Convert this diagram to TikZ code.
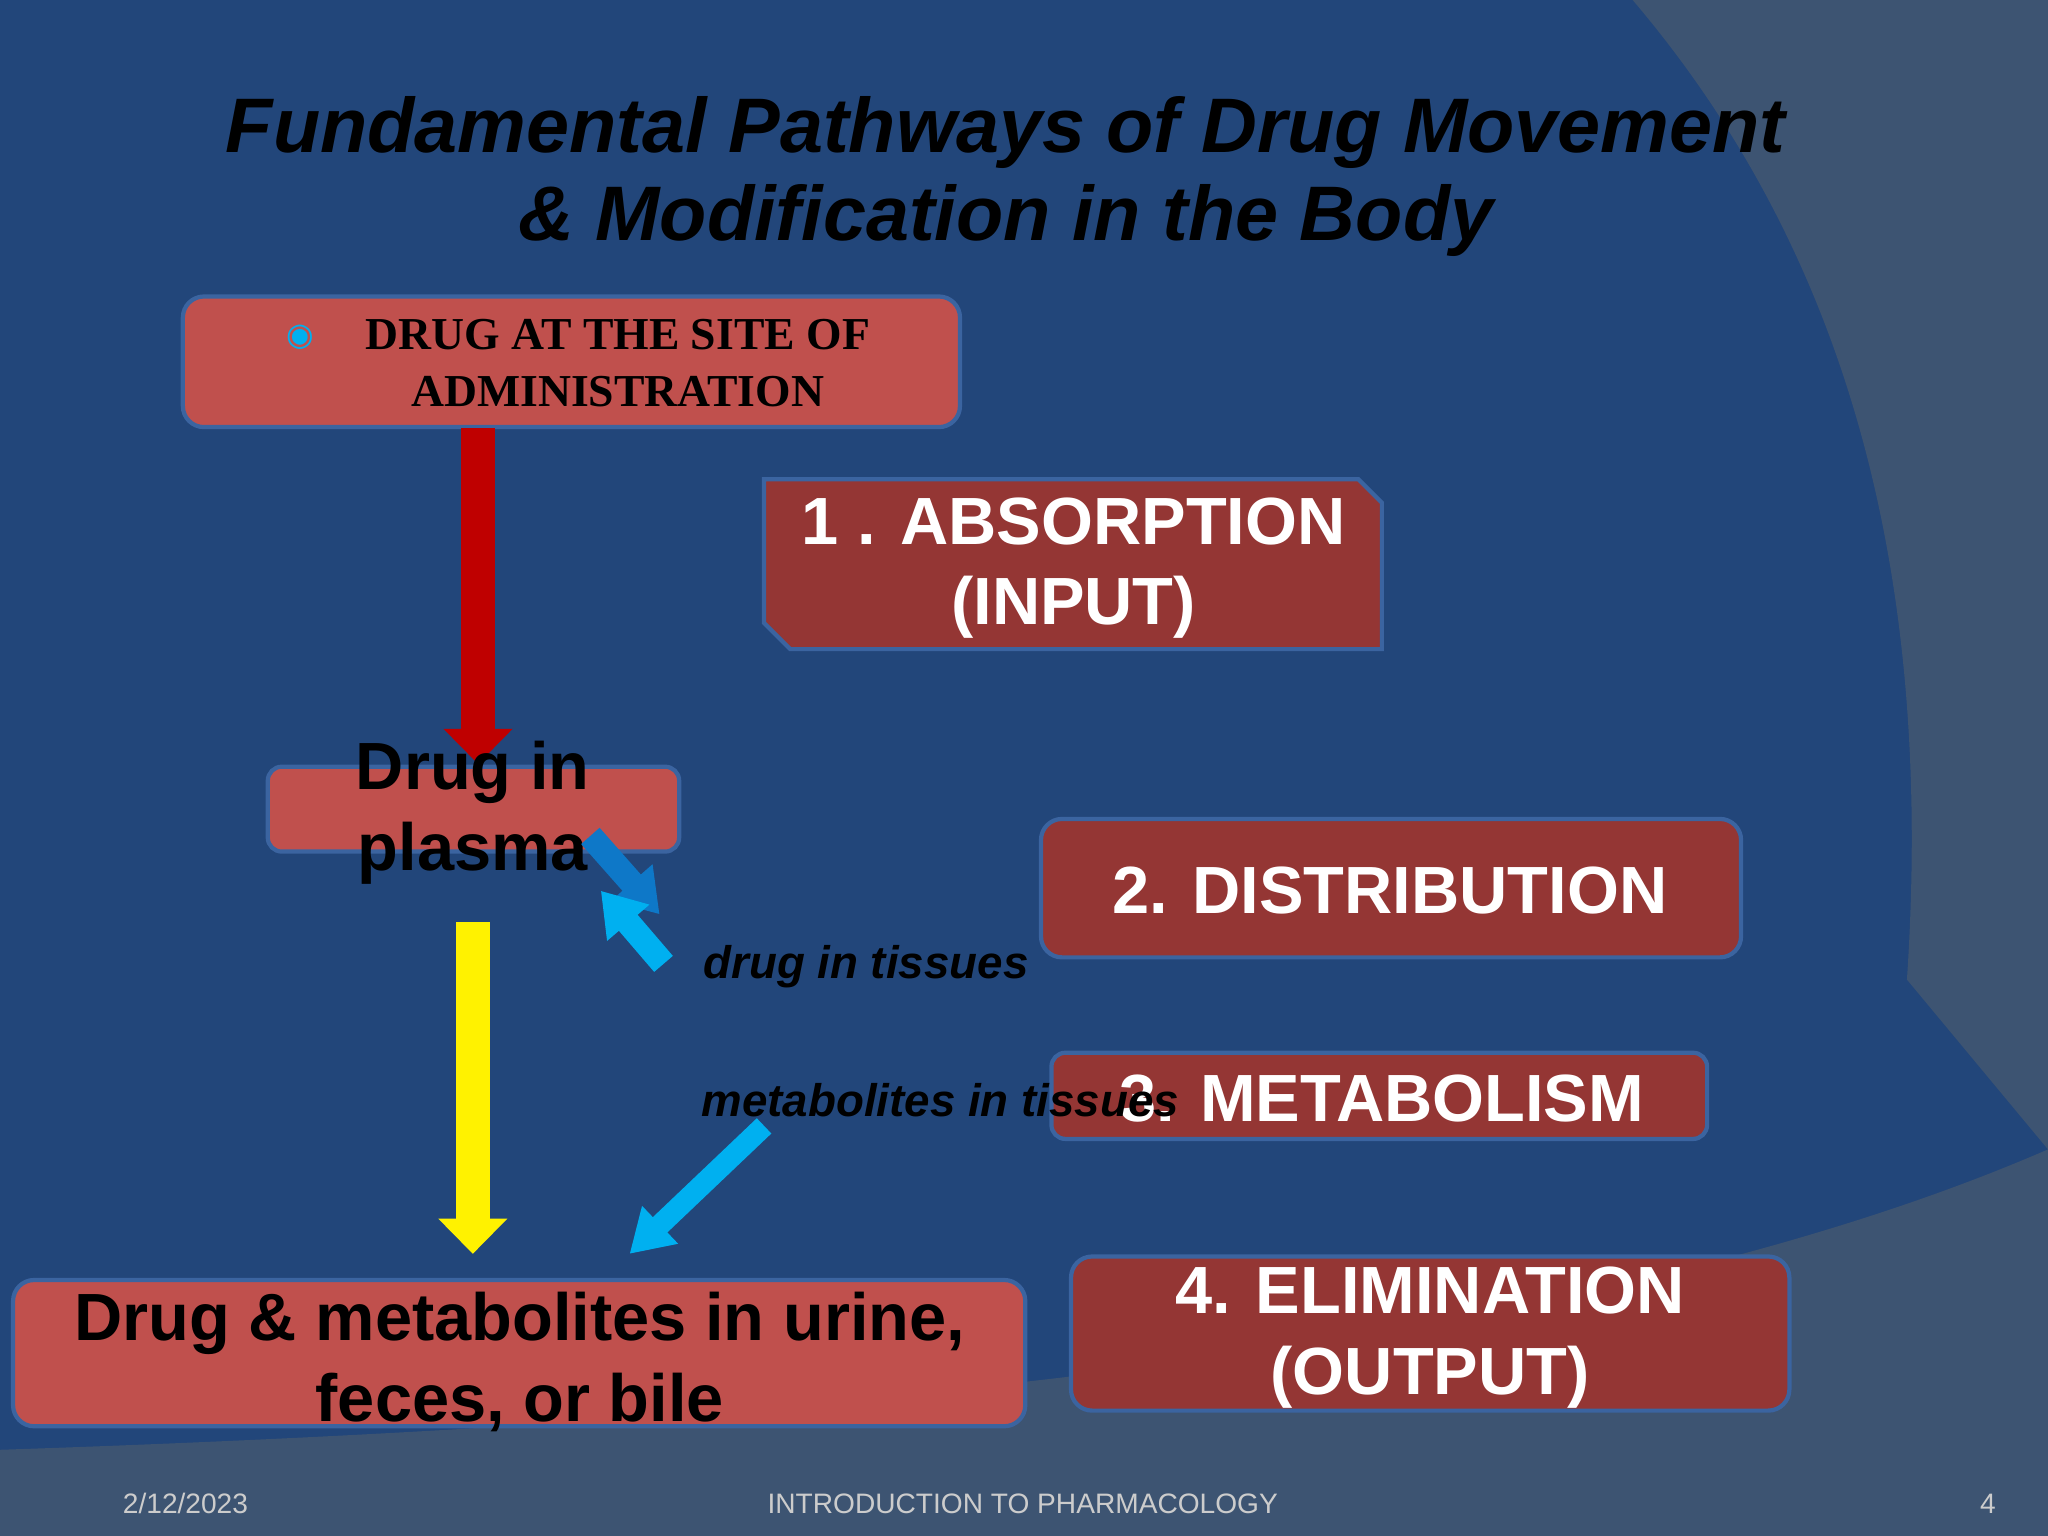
\documentclass[tikz,border=0pt]{standalone}
\usepackage{fontspec}
\setmainfont{Liberation Sans}
\newfontfamily\seriff{Liberation Serif}
\newfontfamily\dvs{DejaVu Sans}
\usetikzlibrary{arrows.meta,shapes.misc}
\definecolor{bg}{HTML}{22467A}
\definecolor{band}{HTML}{3D5472}
\definecolor{lred}{HTML}{C0504D}
\definecolor{dred}{HTML}{943634}
\definecolor{bord}{HTML}{3B64A0}
\definecolor{lblue}{HTML}{00B0F0}
\definecolor{mblue}{HTML}{0E78C8}
\begin{document}
\begin{tikzpicture}[x=0.013061cm,y=-0.013061cm,
  lbox/.style={fill=lred,draw=bord,line width=1.2pt},
  dbox/.style={fill=dred,draw=bord,line width=1.2pt},
  wt/.style={text=white,font=\fontsize{19}{23}\selectfont\bfseries,align=center},
  bt/.style={text=black,font=\fontsize{19}{23}\selectfont\bfseries,align=center},
  it/.style={text=black,font=\fontsize{13}{15}\selectfont\bfseries\itshape},
  fat/.style={line width=#1}]
\useasboundingbox (0,0) rectangle (1568,1176);
\fill[bg] (0,0) rectangle (1568,1176);
\fill[band] (1250,0) .. controls (1420,200) and (1480,450) .. (1460,750) -- (1568,880) -- (1568,0) -- cycle;
\fill[band] (0,1110) .. controls (600,1090) and (1200,1040) .. (1568,880) -- (1568,1176) -- (0,1176) -- cycle;
\node[font=\fontsize{22}{25}\selectfont\bfseries\itshape,align=center] (title) at (770,135)
  {Fundamental Pathways of Drug Movement\\ \& Modification in the Body};
% boxes
\draw[lbox,rounded corners=6pt] (140,227) rectangle (735,327);
\node[text=lblue,font=\dvs\fontsize{9}{10}\selectfont] (bul) at (230,258) {◉};
\node[font=\seriff\fontsize{13}{16}\selectfont\bfseries,align=center] (site) at (473,278) {DRUG AT THE SITE OF\\ADMINISTRATION};
\coordinate (sitebot) at (366,328);
\draw[dbox] (585,367) -- (1040,367) -- (1058,385) -- (1058,497) -- (605,497) -- (585,477) -- cycle;
\node[wt] (abs) at (822,435) {1 . ABSORPTION\\(INPUT)};
\draw[dbox,rounded corners=6pt] (797,627) rectangle (1333,733);
\node[wt] (dist) at (1064,682) {2. DISTRIBUTION};
\draw[dbox,rounded corners=4pt] (805,806) rectangle (1307,872);
\node[wt] (met) at (1058,841) {3. METABOLISM};
\draw[dbox,rounded corners=6pt] (820,962) rectangle (1370,1080);
\node[wt] (elim) at (1095,1024) {4. ELIMINATION\\(OUTPUT)};
% red arrow behind plasma
\coordinate (plasmatop) at (366,585);
\draw[fat=9.5pt,draw=red!75!black,-{Triangle[width=19pt,length=10pt]}] (sitebot) -- (plasmatop);
\draw[lbox,rounded corners=4pt] (205,587) rectangle (520,652);
\node[bt] (plasma) at (362,622) {Drug in\\plasma};
\draw[lbox,rounded corners=6pt] (10,980) rectangle (785,1092);
\node[bt] (urine) at (398,1043) {Drug \& metabolites in urine,\\feces, or bile};
\node[it] (tis) at (663,740) {drug in tissues};
\node[it] (mtis) at (720,842) {metabolites in tissues};
% yellow arrow
\coordinate (y1) at (362,706); \coordinate (y2) at (362,960);
\draw[fat=9.5pt,draw=yellow,-{Triangle[width=19pt,length=10pt]}] (y1) -- (y2);
% blue arrows
\coordinate (b1) at (452,640); \coordinate (b2) at (505,700);
\draw[fat=7pt,draw=mblue,-{Triangle[width=15pt,length=12pt]}] (b1) -- (b2);
\coordinate (b3) at (508,738); \coordinate (b4) at (460,682);
\draw[fat=7pt,draw=lblue,-{Triangle[width=15pt,length=12pt]}] (b3) -- (b4);
\coordinate (c1) at (585,862); \coordinate (c2) at (482,960);
\draw[fat=6pt,draw=lblue,-{Triangle[width=14pt,length=12pt]}] (c1) -- (c2);
% footer
\node[text=black!20,font=\fontsize{8}{9}\selectfont] (date) at (142,1151) {2/12/2023};
\node[text=black!20,font=\fontsize{8}{9}\selectfont] (foot) at (783,1151) {INTRODUCTION TO PHARMACOLOGY};
\node[text=black!20,font=\fontsize{8}{9}\selectfont] (pg) at (1522,1151) {4};
\end{tikzpicture}
\end{document}
